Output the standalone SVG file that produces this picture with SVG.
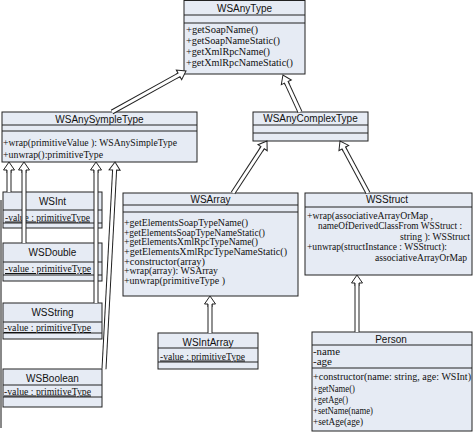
<svg xmlns="http://www.w3.org/2000/svg" width="474" height="433" viewBox="0 0 474 433">
<style>
.box{fill:#e6ebf4;stroke:#222;stroke-width:1}
.sep{stroke:#222;stroke-width:1}
.t{font-family:"Liberation Sans",Arial,sans-serif;font-size:10px;text-anchor:middle;fill:#111}
.m{font-family:"Liberation Serif","Times New Roman",serif;font-size:10px;fill:#111}
.u{text-decoration:underline}
.so line{stroke:#222;stroke-width:5;fill:none}
.si line{stroke:#fff;stroke-width:3;fill:none;marker-end:url(#gen)}
</style>
<defs>
<marker id="gen" markerUnits="userSpaceOnUse" viewBox="-4 -8 14 16" markerWidth="14" markerHeight="16" refX="0" refY="0" orient="auto" overflow="visible">
<path d="M-3,-2 L0,-2 L0,-5.5 L8,0 L0,5.5 L0,2 L-3,2" fill="#fff" stroke="#222" stroke-width="1"/>
</marker>
</defs>
<rect width="474" height="433" fill="#fff"/>
<line x1="1" y1="200" x2="1" y2="428" stroke="#888" stroke-width="2"/>

<g id="WSAnyType">
<rect class="box" x="184" y="0.5" width="121" height="73.5"/>
<line class="sep" x1="184" y1="15" x2="305" y2="15"/>
<line class="sep" x1="184" y1="23" x2="305" y2="23"/>
<text class="t" x="244.5" y="12">WSAnyType</text>
<text class="m" x="186" y="33" textLength="72" lengthAdjust="spacingAndGlyphs">+getSoapName()</text>
<text class="m" x="186" y="44" textLength="94" lengthAdjust="spacingAndGlyphs">+getSoapNameStatic()</text>
<text class="m" x="186" y="55" textLength="84" lengthAdjust="spacingAndGlyphs">+getXmlRpcName()</text>
<text class="m" x="186" y="66" textLength="107" lengthAdjust="spacingAndGlyphs">+getXmlRpcNameStatic()</text>
</g>

<g id="WSAnySympleType">
<rect class="box" x="2" y="112" width="195" height="50"/>
<line class="sep" x1="2" y1="125" x2="197" y2="125"/>
<line class="sep" x1="2" y1="131" x2="197" y2="131"/>
<text class="t" x="99.5" y="123">WSAnySympleType</text>
<text class="m" x="3" y="145.5" textLength="174" lengthAdjust="spacingAndGlyphs">+wrap(primitiveValue ): WSAnySimpleType</text>
<text class="m" x="3" y="157.5" textLength="100" lengthAdjust="spacingAndGlyphs">+unwrap():primitiveType</text>
</g>

<g id="WSInt">
<rect class="box" x="3" y="192" width="99" height="36"/>
<line class="sep" x1="3" y1="210" x2="102" y2="210"/>
<line class="sep" x1="3" y1="223" x2="102" y2="223"/>
<text class="t" x="52.5" y="205">WSInt</text>
<text class="m u" x="5" y="220.5" textLength="85" lengthAdjust="spacingAndGlyphs">-value : primitiveType</text>
</g>

<g id="WSDouble">
<rect class="box" x="3" y="243" width="99" height="38"/>
<line class="sep" x1="3" y1="262" x2="102" y2="262"/>
<line class="sep" x1="3" y1="275" x2="102" y2="275"/>
<text class="t" x="52.5" y="256">WSDouble</text>
<text class="m u" x="5" y="272" textLength="86" lengthAdjust="spacingAndGlyphs">-value : primitiveType</text>
</g>

<g id="WSString">
<rect class="box" x="3" y="303" width="99" height="36"/>
<line class="sep" x1="3" y1="322" x2="102" y2="322"/>
<line class="sep" x1="3" y1="333" x2="102" y2="333"/>
<text class="t" x="52.5" y="316">WSString</text>
<text class="m u" x="4" y="331" textLength="87" lengthAdjust="spacingAndGlyphs">-value : primitiveType</text>
</g>

<g id="WSBoolean">
<rect class="box" x="3" y="369" width="99" height="38"/>
<line class="sep" x1="3" y1="385" x2="102" y2="385"/>
<line class="sep" x1="3" y1="397" x2="102" y2="397"/>
<text class="t" x="52.5" y="381.5">WSBoolean</text>
<text class="m u" x="4" y="394.5" textLength="87" lengthAdjust="spacingAndGlyphs">-value : primitiveType</text>
</g>

<g id="WSAnyComplexType">
<rect class="box" x="253" y="112" width="115" height="29"/>
<line class="sep" x1="253" y1="125" x2="368" y2="125"/>
<line class="sep" x1="253" y1="133" x2="368" y2="133"/>
<text class="t" x="310.5" y="122">WSAnyComplexType</text>
</g>

<g id="WSArray">
<rect class="box" x="123" y="193" width="175" height="103"/>
<line class="sep" x1="123" y1="205" x2="298" y2="205"/>
<line class="sep" x1="123" y1="212" x2="298" y2="212"/>
<text class="t" x="210.5" y="202.5">WSArray</text>
<text class="m" x="124" y="226" textLength="124" lengthAdjust="spacingAndGlyphs">+getElementsSoapTypeName()</text>
<text class="m" x="124" y="235.7" textLength="141" lengthAdjust="spacingAndGlyphs">+getElementsSoapTypeNameStatic()</text>
<text class="m" x="124" y="245.3" textLength="134" lengthAdjust="spacingAndGlyphs">+getElementsXmlRpcTypeName()</text>
<text class="m" x="124" y="255" textLength="163" lengthAdjust="spacingAndGlyphs">+getElementsXmlRpcTypeNameStatic()</text>
<text class="m" x="124" y="264.5" textLength="81" lengthAdjust="spacingAndGlyphs">+constructor(array)</text>
<text class="m" x="124" y="274" textLength="94" lengthAdjust="spacingAndGlyphs">+wrap(array): WSArray</text>
<text class="m" x="124" y="283.5" textLength="101" lengthAdjust="spacingAndGlyphs">+unwrap(primitiveType )</text>
</g>

<g id="WSStruct">
<rect class="box" x="305" y="193" width="167" height="82"/>
<line class="sep" x1="305" y1="207" x2="472" y2="207"/>
<text class="t" x="387" y="203">WSStruct</text>
<text class="m" x="307" y="218.5" textLength="126" lengthAdjust="spacingAndGlyphs">+wrap(associativeArrayOrMap ,</text>
<text class="m" x="318" y="229" textLength="144" lengthAdjust="spacingAndGlyphs">nameOfDerivedClassFrom WSStruct :</text>
<text class="m" x="400" y="239.5" textLength="70" lengthAdjust="spacingAndGlyphs">string ): WSStruct</text>
<text class="m" x="307" y="250" textLength="140" lengthAdjust="spacingAndGlyphs">+unwrap(structInstance : WSStruct):</text>
<text class="m" x="375" y="260.5" textLength="92" lengthAdjust="spacingAndGlyphs">associativeArrayOrMap</text>
</g>

<g id="WSIntArray">
<rect class="box" x="158" y="333" width="100" height="36"/>
<line class="sep" x1="158" y1="348" x2="258" y2="348"/>
<line class="sep" x1="158" y1="362" x2="258" y2="362"/>
<text class="t" x="208" y="345.5">WSIntArray</text>
<text class="m u" x="160" y="359.5" textLength="85" lengthAdjust="spacingAndGlyphs">-value : primitiveType</text>
</g>

<g id="Person">
<rect class="box" x="312" y="332" width="160" height="99"/>
<line class="sep" x1="312" y1="345" x2="472" y2="345"/>
<line class="sep" x1="312" y1="368" x2="472" y2="368"/>
<text class="t" x="391" y="343">Person</text>
<text class="m" x="313" y="355" textLength="27" lengthAdjust="spacingAndGlyphs">-name</text>
<text class="m" x="313" y="365" textLength="19" lengthAdjust="spacingAndGlyphs">-age</text>
<text class="m" x="313" y="379.5" textLength="158" lengthAdjust="spacingAndGlyphs">+constructor(name: string, age: WSInt)</text>
<text class="m" x="313" y="391.5" textLength="42" lengthAdjust="spacingAndGlyphs">+getName()</text>
<text class="m" x="313" y="403" textLength="35" lengthAdjust="spacingAndGlyphs">+getAge()</text>
<text class="m" x="313" y="414" textLength="60" lengthAdjust="spacingAndGlyphs">+setName(name)</text>
<text class="m" x="313" y="425" textLength="50" lengthAdjust="spacingAndGlyphs">+setAge(age)</text>
</g>

<g id="connectors">
<g class="so">
<line x1="112" y1="112" x2="179" y2="74.9"/>
<line x1="300" y1="112" x2="286.3" y2="82.3"/>
<line x1="233" y1="193" x2="262.6" y2="147.7"/>
<line x1="368" y1="193" x2="343.8" y2="148"/>
<line x1="357" y1="332" x2="357" y2="283"/>
<line x1="210" y1="333" x2="210" y2="304"/>
<line x1="9" y1="192" x2="9" y2="170"/>
<line x1="24" y1="243" x2="24" y2="170"/>
<line x1="96" y1="303" x2="96" y2="170"/>
<line x1="104" y1="369" x2="114.6" y2="170"/>
</g>
<g class="si">
<line x1="112" y1="112" x2="179" y2="74.9"/>
<line x1="300" y1="112" x2="286.3" y2="82.3"/>
<line x1="233" y1="193" x2="262.6" y2="147.7"/>
<line x1="368" y1="193" x2="343.8" y2="148"/>
<line x1="357" y1="332" x2="357" y2="283"/>
<line x1="210" y1="333" x2="210" y2="304"/>
<line x1="9" y1="192" x2="9" y2="170"/>
<line x1="24" y1="243" x2="24" y2="170"/>
<line x1="96" y1="303" x2="96" y2="170"/>
<line x1="104" y1="369" x2="114.6" y2="170"/>
</g>
</g>
</svg>
